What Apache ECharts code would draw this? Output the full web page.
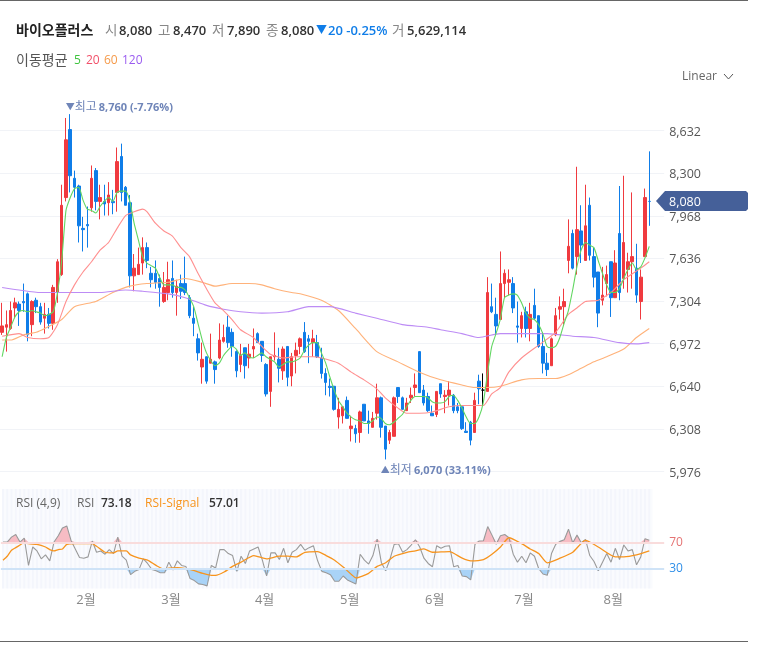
<!DOCTYPE html>
<html>
<head>
<meta charset="utf-8">
<title>바이오플러스</title>
<script src="https://cdn.jsdelivr.net/npm/echarts@6/dist/echarts.min.js"></script>
<style>
html,body{margin:0;padding:0;background:#fff}
#chart{width:757px;height:646px}
</style>
</head>
<body>
<div id="chart"></div>
<script>
// daily candles
var opens = [7060,7100,7090,7250,7280,7300,7360,7120,7310,7260,7170,7200,7130,7370,7510,8110,8640,8260,8200,7870,7900,8030,8320,8080,8080,8070,8080,8150,8430,8190,8070,7500,7510,7600,7720,7520,7520,7480,7300,7370,7480,7370,7440,7440,7330,7170,7010,6790,6870,6820,6830,6860,6990,7100,7060,6910,6810,6940,6860,6930,7050,6990,6810,6600,6870,6850,6760,6950,6720,6880,6950,7060,7010,6980,6980,6860,6740,6640,6640,6400,6410,6530,6310,6310,6280,6500,6370,6320,6430,6550,6330,6220,6250,6630,6550,6450,6550,6630,6910,6610,6560,6430,6420,6660,6560,6570,6570,6480,6480,6290,6360,6280,6680,6610,6600,7260,7200,7160,7440,7450,7440,7110,7090,7220,7090,7270,7190,6950,6820,6800,7040,7240,7260,7620,7830,7650,7850,7620,8050,7650,7530,7310,7440,7610,7330,7830,7480,7550,7610,7560,7300,7650,8080];
var closes = [7110,7120,7230,7290,7230,7290,7040,7300,7260,7140,7200,7130,7410,7610,8050,8560,8280,8190,7890,7860,7890,8260,8080,8110,8060,8130,8070,8390,8150,8050,7500,7560,7590,7720,7620,7470,7450,7410,7410,7470,7370,7420,7380,7370,7190,7130,6900,6850,6680,6850,6770,7000,7020,6980,6950,6760,6880,6800,6890,6950,6980,6880,6580,6870,6880,6780,6930,6710,6870,6920,7010,6910,6990,7010,6870,6740,6670,6630,6460,6460,6480,6390,6330,6270,6440,6370,6350,6390,6550,6320,6150,6280,6550,6560,6460,6510,6570,6650,6590,6510,6450,6410,6600,6580,6570,6610,6450,6450,6310,6280,6220,6530,6620,6610,7370,7220,7110,7440,7520,7470,7250,7100,7190,7090,7200,7170,6950,6820,6770,7010,7190,7260,7300,7730,7560,7860,7740,7890,7660,7490,7210,7350,7510,7330,7600,7370,7760,7610,7650,7350,7490,8110,8080];
var lows = [7040,6910,7080,7170,7110,7220,6990,7030,7210,7120,7050,7090,7080,7290,7500,8080,8150,8110,7760,7690,7720,8000,8010,7940,7970,7970,7980,8000,8080,8050,7410,7380,7510,7510,7560,7410,7400,7260,7290,7310,7330,7190,7320,7350,7170,7030,6840,6660,6660,6820,6660,6850,6980,6940,6870,6710,6750,6700,6780,6860,6980,6830,6560,6480,6840,6670,6690,6640,6640,6740,6890,6900,6820,6870,6860,6700,6570,6560,6450,6310,6350,6390,6210,6200,6200,6370,6270,6320,6380,6240,6070,6190,6250,6510,6460,6450,6510,6560,6590,6490,6440,6410,6400,6550,6430,6490,6430,6430,6300,6280,6180,6280,6500,6490,6600,7210,7040,7160,7330,7350,7210,6980,7020,7020,6990,7160,6940,6740,6720,6800,7030,7160,7120,7520,7550,7510,7600,7620,7620,7410,7100,7270,7340,7180,7330,7310,7400,7370,7400,7290,7160,7650,7890];
var highs = [7290,7230,7300,7330,7300,7440,7370,7310,7330,7290,7290,7250,7430,7630,8210,8730,8760,8320,8210,7960,8040,8360,8340,8210,8210,8230,8170,8500,8530,8200,8130,7670,7720,7800,7760,7570,7620,7510,7530,7610,7620,7470,7510,7650,7350,7260,7050,6980,6870,7050,6840,7130,7120,7190,7090,6920,6970,6940,6970,7090,7060,6990,6820,6870,7060,6940,6950,6950,6900,6980,7020,7140,7040,7080,7040,6940,6780,6700,6640,6550,6480,6560,6410,6340,6450,6500,6450,6440,6660,6560,6330,6300,6560,6630,6560,6550,6630,6740,6910,6650,6590,6490,6600,6660,6610,6680,6580,6510,6480,6360,6370,6590,6730,6740,7490,7440,7330,7690,7550,7550,7490,7300,7220,7260,7290,7400,7190,7060,6900,7020,7250,7340,7400,7940,7860,8350,8050,8210,8110,7720,7530,7570,7580,7610,7700,8200,8280,7680,8150,7750,7550,8180,8470];

// moving averages. ma5 per candle, the slower ones as [candle index, price]
var ma5 = [6870,7020,7100,7180,7220,7230,7220,7230,7220,7210,7190,7200,7220,7370,7620,8010,8110,8180,8190,8090,8020,8010,7990,8040,8080,8110,8080,8150,8160,8160,8080,7910,7780,7650,7600,7580,7560,7490,7430,7430,7430,7410,7410,7390,7330,7260,7130,7000,6900,6840,6800,6820,6880,6920,6950,6930,6880,6900,6870,6860,6880,6900,6870,6850,6830,6790,6810,6830,6830,6840,6860,6920,6960,6980,6980,6900,6820,6710,6610,6530,6480,6430,6400,6380,6370,6350,6350,6370,6400,6390,6350,6340,6360,6390,6420,6480,6530,6560,6560,6560,6550,6520,6510,6510,6520,6560,6570,6530,6470,6400,6350,6350,6400,6510,6740,6950,7050,7160,7330,7350,7360,7350,7290,7210,7170,7160,7120,7050,6950,6940,6950,7020,7130,7230,7390,7570,7700,7760,7740,7720,7620,7520,7430,7370,7370,7400,7480,7550,7600,7550,7570,7640,7730];
var ma20 = [[0,7030],[4,7050],[6,7020],[9,7010],[11,7020],[13,7120],[15,7300],[17,7430],[19,7530],[21,7610],[23,7700],[25,7760],[27,7870],[29,7970],[31,8000],[33,8020],[34,8000],[36,7910],[38,7850],[40,7810],[42,7720],[44,7650],[46,7520],[48,7400],[50,7290],[52,7230],[54,7160],[56,7080],[59,7020],[61,6950],[63,6890],[66,6860],[69,6870],[73,6870],[75,6860],[79,6820],[82,6750],[85,6690],[88,6620],[90,6550],[93,6470],[95,6430],[98,6430],[101,6440],[105,6480],[108,6490],[111,6490],[113,6490],[115,6580],[117,6630],[119,6750],[122,6860],[126,6960],[130,7060],[133,7200],[135,7250],[137,7300],[140,7310],[143,7370],[146,7470],[150,7560],[152,7610]];
var ma60 = [[0,7000],[2,7000],[5,7040],[8,7060],[10,7090],[14,7160],[17,7260],[22,7300],[26,7370],[30,7420],[34,7440],[39,7450],[43,7480],[47,7450],[50,7420],[54,7440],[58,7440],[61,7430],[64,7400],[68,7370],[70,7360],[75,7310],[79,7230],[83,7090],[88,6910],[93,6830],[98,6750],[103,6690],[108,6650],[111,6630],[114,6630],[117,6640],[122,6690],[126,6700],[130,6700],[133,6730],[136,6780],[139,6830],[142,6870],[146,6930],[149,7020],[152,7090]];
var ma120 = [[0,7410],[4,7390],[9,7370],[14,7370],[19,7370],[23,7370],[29,7390],[33,7380],[39,7360],[43,7330],[48,7270],[52,7240],[56,7220],[61,7210],[67,7220],[72,7260],[77,7260],[83,7210],[88,7170],[94,7120],[100,7100],[103,7080],[108,7050],[112,7020],[117,7050],[122,7050],[128,7050],[134,7030],[139,7020],[145,6980],[149,6970],[152,6980]];

// RSI panel
var rsi = [70.5,70.5,78,82,70.5,76.6,35,63,57,45,51,42,70.5,80,92,95,73,60,47,46,48,72,55,57,52,59,53,78,49,43,21,26,29,45,38,29,27,24,24,40,28,42,35,33.5,15,12,7,6,4,35,31,59,59,53,50,26,49,38,57,60,63,43,19,54,54,44,61,39,55,59,67,58,62,65,42,26,24,21,11,11,19,13,10,7,52,43,37,50,75,39,27,44,67,68,55,59,66,74,63,46,38,33,65,61,64,65,33,35,19,18,13,67,72,72.5,94,81,67,80,82,77,52,40,49,39,54,49,30,22,20,53,67,71.5,74,90,69,81,69.5,74.5,50,41,27,40,53,40,61,44,66,57,59,36,48,75.6,73.18];
var rsiSignal = [[0,43],[1,49],[2,58],[3,62],[4,66],[5,70],[6,68],[8,67],[10,63],[11,59],[12,57],[13,59],[14,60],[15,67],[17,68],[21,68],[22,64],[24,55],[26,54],[27,57],[29,57],[30,51],[32,46],[34,43],[36,35],[38,29],[39,31],[41,31.5],[43,30],[45,27],[47,23],[49,20],[50,20],[52,25],[54,33.5],[56,40],[59,50],[62,45],[65,49],[67,49],[69,48],[71,55],[74,56],[76,50],[78,43],[80,32.5],[82,21],[83,16],[86,23],[88,33.5],[90,39],[92,49],[95,55],[97,57],[99,60],[101,55],[105,56],[108,46],[110,42],[113,44],[115,52],[117,63],[119,77],[122,68],[124,60],[126,53],[128,39],[131,46],[134,55],[137,73],[140,63],[144,48],[146,48],[149,51],[152,57.01]];
var rsiHigh = 70;
var rsiLow = 30;
var rsiMax = 151;

var monthLabels = {20:'2월',40:'3월',62:'4월',82:'5월',102:'6월',123:'7월',144:'8월'};
var priceTicks = 332;
var priceMin = 5976;
var priceMax = 8870;
var highIndex = 16;
var lowIndex = 90;
var flatIndex = 113;
var padCandles = 3;
var lastClose = 8080;

var UP = '#f03a3f', DOWN = '#0f7de8', TAG = '#456099', MARK = '#6f85b8';
var FONT = '"Open Sans","Noto Sans CJK KR",sans-serif';

var categories = [];
for (var i = 0; i < opens.length + padCandles; i++) categories.push(monthLabels[i] || '');

var candles = opens.map(function (o, i) {
    var item = {value: [o, closes[i], lows[i], highs[i]]};
    if (i === flatIndex) item.itemStyle = {color: '#000', color0: '#000', borderColor: '#000', borderColor0: '#000'};
    return item;
});

function maLine(name, data, color, z) {
    return {name: name, type: 'line', data: data, smooth: 0.2, showSymbol: false, symbol: 'none',
        lineStyle: {color: color, width: 1.1}, silent: true, z: z};
}

function markLabel(coord, rich, pos) {
    return {coord: coord, symbol: 'rect', symbolSize: 1, itemStyle: {color: 'rgba(0,0,0,0)'},
        label: {show: true, position: pos, align: 'left', verticalAlign: 'middle', formatter: rich,
            rich: {
                t: {fontSize: 9, color: MARK, fontFamily: FONT},
                k: {fontSize: 12, color: MARK, fontFamily: FONT, padding: [0, 2, 0, 0]},
                v: {fontSize: 11, color: MARK, fontWeight: 'bold', fontFamily: FONT}
            }}};
}

var chart = echarts.init(document.getElementById('chart'), null, {renderer: 'canvas'});

function txt(x, y, text, color, size, weight) {
    return {type: 'text', silent: true, z: 100, style: {x: x, y: y + 1, text: text, fill: color,
        font: (weight || 'normal') + ' ' + (size || 12) + 'px ' + FONT, textVerticalAlign: 'middle'}};
}

var headerText = [
    txt(16, 30, '바이오플러스', '#222', 14, 'bold'),
    txt(105, 30, '시', '#888', 13.5), txt(119, 30, '8,080', '#333', 13, '600'),
    txt(158, 30, '고', '#888', 13.5), txt(173, 30, '8,470', '#333', 13, '600'),
    txt(212, 30, '저', '#888', 13.5), txt(227, 30, '7,890', '#333', 13, '600'),
    txt(266, 30, '종', '#888', 13.5), txt(281, 30, '8,080', '#333', 13, '600'),
    txt(316, 30, '▼', DOWN, 11), txt(328, 30, '20 -0.25%', DOWN, 13, '600'),
    txt(392, 30, '거', '#888', 13.5), txt(407, 30, '5,629,114', '#333', 13, '600'),
    txt(16, 60, '이동평균', '#555', 14),
    txt(74, 60, '5', '#3fc43f', 12), txt(86, 60, '20', '#f2506a', 12),
    txt(104, 60, '60', '#f59a4a', 12), txt(122, 60, '120', '#9a5cf0', 12),
    txt(682, 76, 'Linear', '#666', 12),
    txt(16, 503, 'RSI (4,9)', '#666', 12), txt(77, 503, 'RSI', '#666', 12),
    txt(101, 503, '73.18', '#333', 12, '600'),
    txt(145, 503, 'RSI-Signal', '#f7941d', 12), txt(209, 503, '57.01', '#333', 12, '600')
];

var frame = [
    {type: 'line', silent: true, shape: {x1: 0, y1: 0.5, x2: 748, y2: 0.5}, style: {stroke: '#666', lineWidth: 1}},
    {type: 'line', silent: true, shape: {x1: 0, y1: 641.5, x2: 748, y2: 641.5}, style: {stroke: '#666', lineWidth: 1}},
    {type: 'polyline', silent: true, shape: {points: [[724, 74], [728.5, 79], [733, 74]]}, style: {stroke: '#555', lineWidth: 1, fill: null}}
];

chart.setOption({
    animation: false,
    textStyle: {fontFamily: FONT},
    axisPointer: {show: false},
    grid: [
        {left: -1.43, width: 665.6, top: 100, height: 371.5},
        {left: -1.43, width: 665.6, top: 489, height: 99.5}
    ],
    xAxis: [
        {type: 'category', gridIndex: 0, data: categories, show: false},
        {type: 'category', gridIndex: 1, data: categories,
            axisLine: {show: false}, axisTick: {show: false},
            axisLabel: {interval: 0, color: '#888', fontSize: 13, margin: 5, padding: [0, 4, 0, 0], hideOverlap: false}}
    ],
    yAxis: [
        {type: 'value', gridIndex: 0, min: priceMin, max: priceMax, interval: priceTicks, position: 'right', scale: true,
            axisLine: {show: false}, axisTick: {show: false},
            splitLine: {show: true, showMaxLine: false, lineStyle: {color: '#f1f3f7', width: 1}},
            axisLabel: {margin: 5, showMaxLabel: false,
                formatter: function (v) { return '{a|' + v.toLocaleString('en-US') + '}'; },
                rich: {a: {color: '#555', fontSize: 12.5, fontFamily: FONT, lineHeight: 14, padding: [3, 0, 0, 0]}}}},
        {type: 'value', gridIndex: 1, min: 0, max: rsiMax, position: 'right',
            axisLine: {show: false}, axisTick: {show: false}, splitLine: {show: false},
            axisLabel: {show: true, customValues: [rsiLow, rsiHigh], margin: 5, fontSize: 12,
                color: function (v) { return Number(v) === rsiHigh ? '#e57373' : '#2f8fe8'; }}}
    ],
    series: [
        {name: 'candle', type: 'candlestick', xAxisIndex: 0, yAxisIndex: 0, data: candles, barWidth: 3, silent: true,
            itemStyle: {color: UP, color0: DOWN, borderColor: UP, borderColor0: DOWN, borderWidth: 1},
            markPoint: {silent: true, animation: false, data: [
                markLabel([highIndex, highs[highIndex]], '{t|▼}{k|최고}{v|8,760 (-7.76%)}', [-4, -6]),
                markLabel([lowIndex, lows[lowIndex]], '{t|▲}{k|최저}{v|6,070 (33.11%)}', [-4, 12])
            ]}},
        maLine('5', ma5, '#61d661', 5),
        maLine('20', ma20, '#ff9090', 4),
        maLine('60', ma60, '#ffb27a', 3),
        maLine('120', ma120, '#bd8cf5', 3),
        // panel background, striped per candle
        {type: 'bar', xAxisIndex: 1, yAxisIndex: 1, data: rsi.map(function () { return rsiMax; }),
            barWidth: '100%', barGap: '-100%', itemStyle: {color: '#fafbfe'}, silent: true, z: 0},
        {type: 'bar', xAxisIndex: 1, yAxisIndex: 1, data: rsi.map(function () { return rsiMax; }),
            barWidth: 2, barGap: '-100%', itemStyle: {color: '#f4f6fc'}, silent: true, z: 0,
            markLine: {silent: true, symbol: 'none', label: {show: false}, animation: false, data: [
                {yAxis: rsiHigh, lineStyle: {color: '#f9dcdc', width: 2, type: 'solid'}},
                {yAxis: rsiLow, lineStyle: {color: '#cfe3f7', width: 2, type: 'solid'}}
            ]}},
        {type: 'line', xAxisIndex: 1, yAxisIndex: 1, symbol: 'none', silent: true, z: 2,
            data: rsi.map(function (v) { return Math.max(v, rsiHigh); }),
            lineStyle: {width: 0}, areaStyle: {origin: rsiHigh, color: '#f7bcc4', opacity: 1}},
        {type: 'line', xAxisIndex: 1, yAxisIndex: 1, symbol: 'none', silent: true, z: 2,
            data: rsi.map(function (v) { return Math.min(v, rsiLow); }),
            lineStyle: {width: 0}, areaStyle: {origin: rsiLow, color: '#a9d3f7', opacity: 1}},
        {name: 'RSI', type: 'line', xAxisIndex: 1, yAxisIndex: 1, data: rsi, symbol: 'none', silent: true, z: 3,
            lineStyle: {color: '#9a9a9a', width: 1.1}},
        {name: 'RSI-Signal', type: 'line', xAxisIndex: 1, yAxisIndex: 1, data: rsiSignal, symbol: 'none', smooth: 0.2, silent: true, z: 4,
            lineStyle: {color: '#f7941d', width: 1.3}}
    ]
});

// price tag follows the last close through the axis
var tagY = Math.round(chart.convertToPixel({yAxisIndex: 0}, lastClose));
var tag = [
    {type: 'polygon', silent: true, z: 90, shape: {points: [[656, tagY], [665, tagY - 10], [746, tagY - 10], [748, tagY - 8], [748, tagY + 8], [746, tagY + 10], [665, tagY + 10]]}, style: {fill: TAG}},
    txt(669, tagY, lastClose.toLocaleString('en-US'), '#fff', 12.5)
];
chart.setOption({graphic: {elements: headerText.concat(frame, tag)}});
</script>
</body>
</html>
